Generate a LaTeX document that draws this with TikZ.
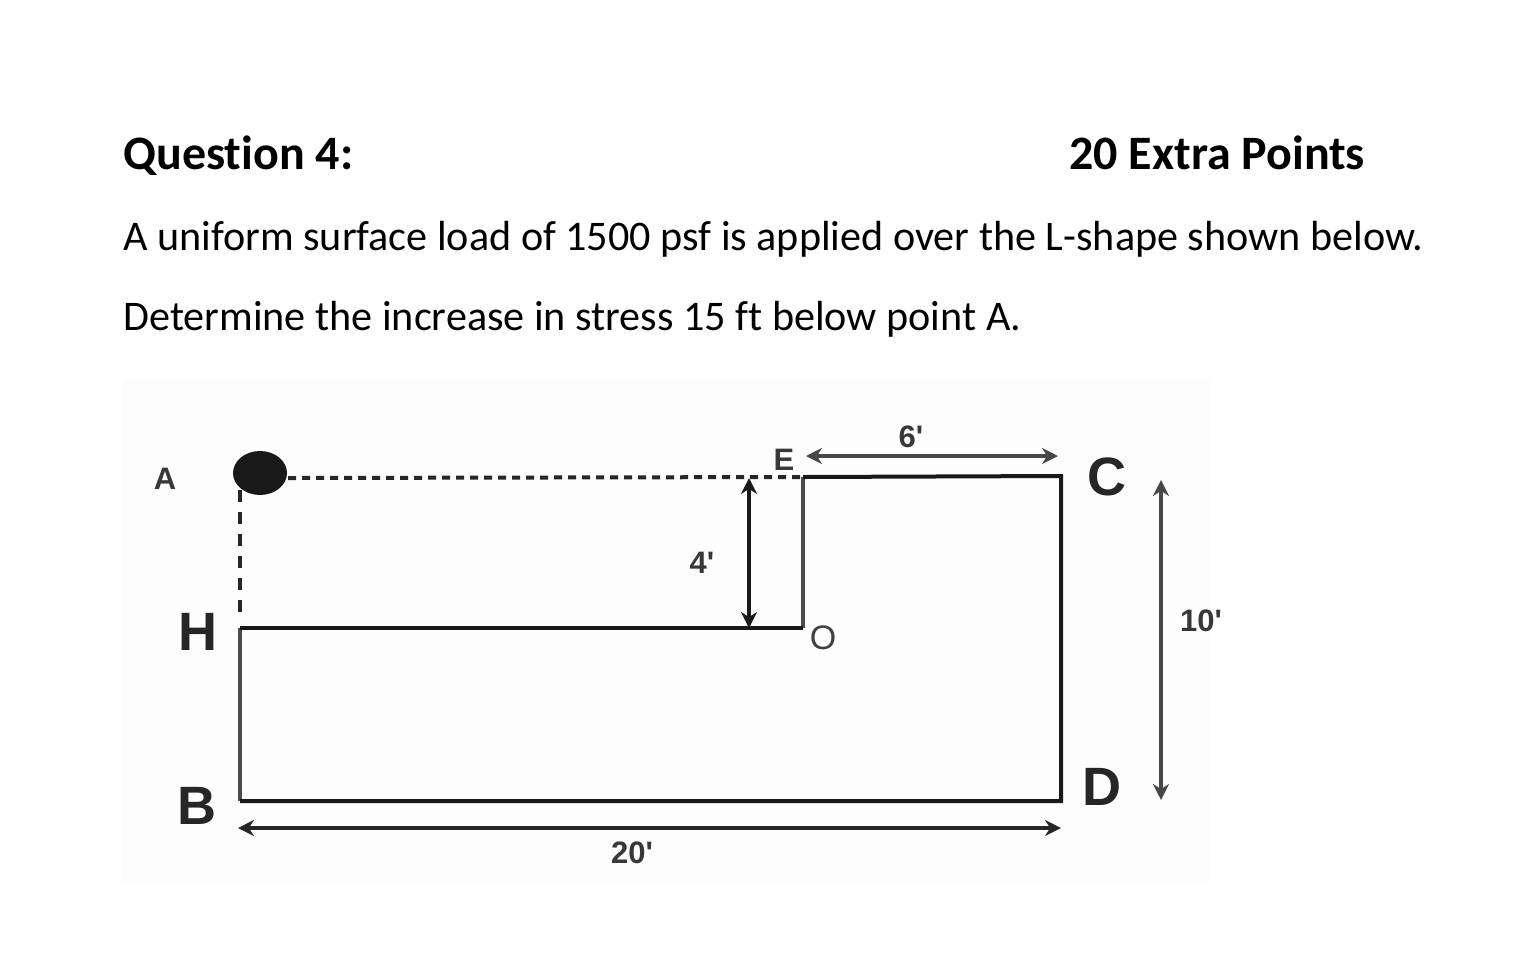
\documentclass[tikz,border=0pt]{standalone}
\usepackage{fontspec}
\setmainfont[Ligatures=CommonOff]{Carlito}
\newfontfamily\labelfont{Liberation Sans}
\usetikzlibrary{arrows.meta}
\tikzset{
  wall/.style={line width=2pt,black!90},
  thinwall/.style={line width=2pt,black!70},
  hidden/.style={line width=2pt,black!85,dash pattern=on 4pt off 3pt},
  dimline/.style={line width=2pt,black!72,{Stealth[length=8pt,width=8pt]}-{Stealth[length=8pt,width=8pt]}},
  heading/.style={anchor=base west,inner sep=0pt,font=\fontsize{24}{28}\selectfont\bfseries},
  body/.style={anchor=base west,inner sep=0pt,font=\fontsize{21.08}{25}\selectfont},
  biglabel/.style={inner sep=0pt,text=black!85,font=\labelfont\fontsize{27}{30}\selectfont\bfseries},
  smalllabel/.style={inner sep=0pt,text=black!78,font=\labelfont\fontsize{15.5}{18}\selectfont\bfseries},
  thinlabel/.style={inner sep=0pt,text=black!75,font=\labelfont\fontsize{17}{20}\selectfont},
}
\begin{document}
\begin{tikzpicture}[x=0.5pt,y=-0.5pt]
\useasboundingbox (0,0) rectangle (1519,971);
\fill[white] (0,0) rectangle (1519,971);
\fill[black!0.8] (122,378) rectangle (1210,884);

%% text
\node[heading] (question) at (123,169) {Question 4:};
\node[heading] (points) at (1069,169) {20 Extra Points};
\node[body] (line1) at (123,250) {A uniform surface load of 1500 psf is applied over the L-shape shown below.};
\node[body] (line2) at (123,330) {Determine the increase in stress 15 ft below point A.};

%% corners of the L
\coordinate (a) at (240,490);
\coordinate (h) at (240,628);
\coordinate (b) at (240,801);
\coordinate (d) at (1061,801);
\coordinate (c) at (1061,476);
\coordinate (e) at (803,477);
\coordinate (o) at (803,628);
\coordinate (f) at (749,628);
\coordinate (g) at (749,478);
\coordinate (s) at (240,614);

\draw[hidden] (288,478) -- (e);
\draw[hidden,dash pattern=on 6pt off 5pt] (a) -- (s);
\draw[thinwall] (h) -- (b);
\draw[thinwall] (e) -- (o);
\draw[wall] (h) -- (o);
\draw[wall] (b) -- (d) -- (c) -- (e);
\fill[black!90] (260,473) ellipse (27 and 22);

%% dimensions
\draw[dimline,black!90] (g) -- (f);
\draw[dimline] (806,456) -- (1058,456);
\draw[dimline] (1161,480) -- (1161,800);
\draw[dimline,black!85] (238,828) -- (1061,828);

%% labels
\foreach \name/\txt/\coord in {la/H/{198,632},lb/B/{197,806},lc/C/{1107,477},ld/D/{1102,787}}
  \node[biglabel] (\name) at (\coord) {\txt};
\foreach \name/\txt/\coord in {lA/A/{165,479},lE/E/{784,460},l4/4'/{702,563},l6/6'/{911,437},l10/10'/{1201,621},l20/20'/{632,853}}
  \node[smalllabel] (\name) at (\coord) {\txt};
\node[thinlabel] (lO) at (823,638) {O};
\end{tikzpicture}
\end{document}
